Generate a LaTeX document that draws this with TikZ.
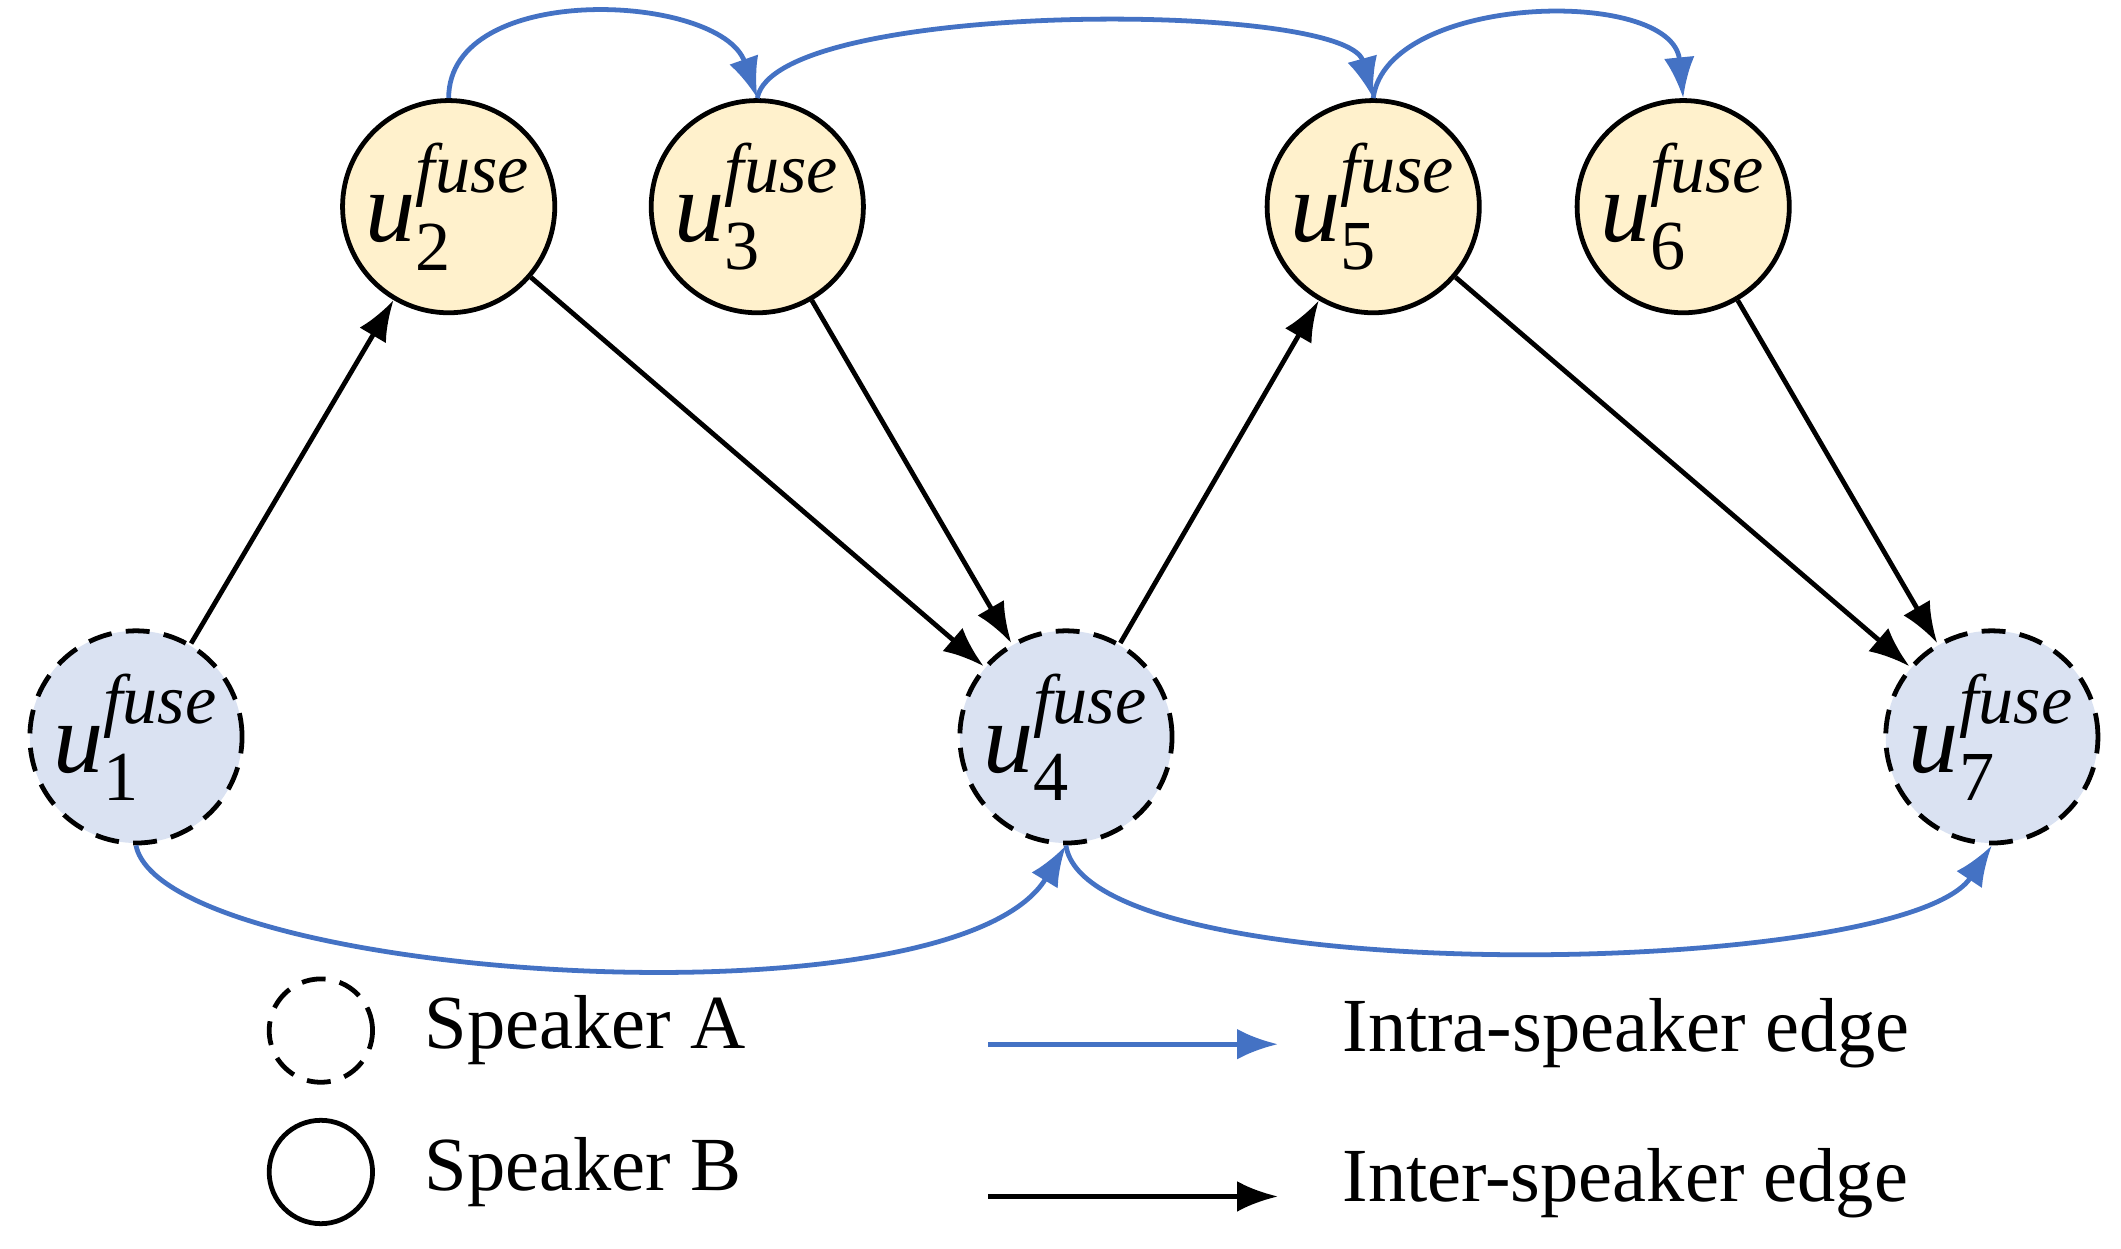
\documentclass[tikz,border=0pt]{standalone}
\usepackage{amsmath}
\usepackage{fontspec}
\setmainfont{Liberation Serif}
\usetikzlibrary{arrows.meta}
\definecolor{nodeY}{RGB}{255,241,204}
\definecolor{nodeB}{RGB}{218,226,242}
\definecolor{intra}{RGB}{68,114,196}
\tikzset{
  spkA/.style={circle, draw, line width=1pt, dash pattern=on 5pt off 3pt, fill=nodeB, minimum size=1.56cm, inner sep=0pt, font=\fontsize{21}{21}\selectfont},
  spkB/.style={circle, draw, line width=1pt, fill=nodeY, minimum size=1.56cm, inner sep=0pt, font=\fontsize{21}{21}\selectfont},
  intraE/.style={intra, line width=1pt, -{Latex[length=3mm]}},
  interE/.style={black, line width=1pt, -{Latex[length=3mm]}},
  legtxt/.style={anchor=west, font=\fontsize{16}{16}\selectfont}
}
\newcommand{\ufuse}[1]{$\text{\rmfamily\itshape u}^{\text{\rmfamily\itshape fuse}}_{\text{\rmfamily #1}}$}
\begin{document}
\begin{tikzpicture}[x=0.01cm, y=-0.01cm]
        \useasboundingbox (0,0) rectangle (1560,918);
        %nodes
        \node[spkA] (u1) at (100,542) {\ufuse{1}};
        \node[spkB] (u2) at (330,152) {\ufuse{2}};
        \node[spkB] (u3) at (557,152) {\ufuse{3}};
        \node[spkA] (u4) at (784,542) {\ufuse{4}};
        \node[spkB] (u5) at (1010,152) {\ufuse{5}};
        \node[spkB] (u6) at (1238,152) {\ufuse{6}};
        \node[spkA] (u7) at (1465,542) {\ufuse{7}};
        %intra-speaker
        \draw[intraE] (u2.north) .. controls (330,-15) and (530,-5) .. (u3.north);
        \draw[intraE] (u3.north) .. controls (570,0) and (990,0) .. (u5.north);
        \draw[intraE] (u5.north) .. controls (1020,-5) and (1230,-10) .. (u6.north);
        \draw[intraE] (u1.south) .. controls (120,720) and (700,760) .. (u4.south);
        \draw[intraE] (u4.south) .. controls (800,730) and (1400,720) .. (u7.south);
        %inter-speaker
        \draw[interE] (u1) -- (u2);
        \draw[interE] (u2) -- (u4);
        \draw[interE] (u3) -- (u4);
        \draw[interE] (u4) -- (u5);
        \draw[interE] (u5) -- (u7);
        \draw[interE] (u6) -- (u7);
        %legend
        \node[circle, draw, line width=1pt, dash pattern=on 5pt off 3pt, minimum size=0.76cm] (legA) at (236,758) {};
        \node[legtxt] at (300,758) {Speaker A};
        \node[circle, draw, line width=1pt, minimum size=0.76cm] (legB) at (236,862) {};
        \node[legtxt] at (300,862) {Speaker B};
        \coordinate (iaS) at (727,768); \coordinate (iaE) at (940,768);
        \coordinate (ieS) at (727,880); \coordinate (ieE) at (940,880);
        \draw[intraE] (iaS) -- (iaE);
        \draw[interE] (ieS) -- (ieE);
        \node[legtxt] at (975,760) {Intra-speaker edge};
        \node[legtxt] at (975,870) {Inter-speaker edge};
\end{tikzpicture}
\end{document}
